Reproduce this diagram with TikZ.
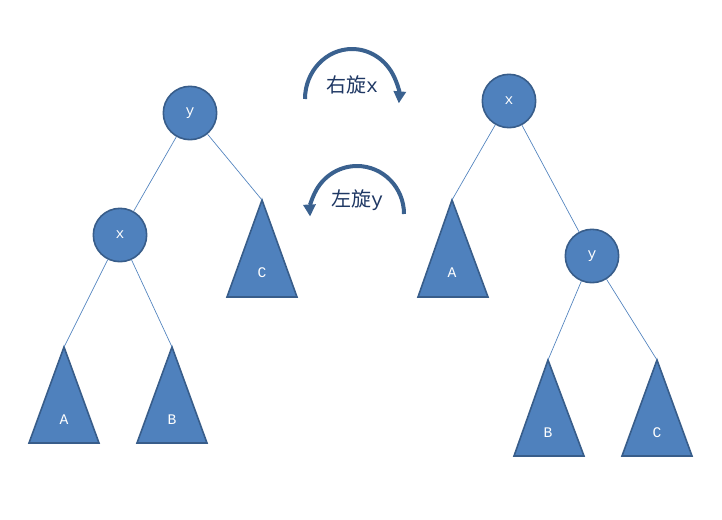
\documentclass[tikz,border=0pt]{standalone}
\usepackage{fontspec}
\setmonofont{Liberation Mono}
\newfontfamily\cjk{Noto Sans CJK SC}
\usetikzlibrary{arrows.meta}
\definecolor{nfill}{HTML}{4F81BD}
\definecolor{nedge}{HTML}{385D8A}
\definecolor{txt}{HTML}{1F3864}
\begin{document}
\begin{tikzpicture}[x=0.75pt,y=-0.75pt,
  circ/.style={circle,draw=nedge,fill=nfill,line width=1.2pt,minimum size=40pt,inner sep=0pt,font=\ttfamily\fontsize{11}{11}\selectfont,text=white},
  tri/.style={draw=nedge,fill=nfill,line width=1.2pt},
  tlab/.style={font=\ttfamily\fontsize{11}{11}\selectfont,text=white},
  edge/.style={draw=nfill,line width=0.5pt},
  rot/.style={draw=nedge!90!nfill,line width=3pt,-{Triangle[length=9pt,width=9pt]}},
  rlab/.style={text=txt,font=\fontsize{15}{15}\selectfont}]
\useasboundingbox (0,0) rectangle (722,519);
% left tree
\node[circ] (ly) at (190,113) {y};
\node[circ] (lx) at (120,235) {x};
\coordinate (lC) at (262,200);
\coordinate (lA) at (64,347);
\coordinate (lB) at (172,347);
\draw[tri] (lC) -- (297,297) -- (227,297) -- cycle;
\draw[tri] (lA) -- (99,443) -- (29,443) -- cycle;
\draw[tri] (lB) -- (207,443) -- (137,443) -- cycle;
\node[tlab] (lCl) at (262,273) {C};
\node[tlab] (lAl) at (64,420) {A};
\node[tlab] (lBl) at (172,420) {B};
\draw[edge] (ly) -- (lx);
\draw[edge] (ly) -- (lC);
\draw[edge] (lx) -- (lA);
\draw[edge] (lx) -- (lB);
% right tree
\node[circ] (rx) at (509,101) {x};
\node[circ] (ry) at (592,256) {y};
\coordinate (rA) at (452,200);
\coordinate (rB) at (548,360);
\coordinate (rC) at (657,360);
\draw[tri] (rA) -- (488,297) -- (418,297) -- cycle;
\draw[tri] (rB) -- (584,456) -- (514,456) -- cycle;
\draw[tri] (rC) -- (692,456) -- (622,456) -- cycle;
\node[tlab] (rAl) at (452,273) {A};
\node[tlab] (rBl) at (548,433) {B};
\node[tlab] (rCl) at (657,433) {C};
\draw[edge] (rx) -- (rA);
\draw[edge] (rx) -- (ry);
\draw[edge] (ry) -- (rB);
\draw[edge] (ry) -- (rC);
% rotation arrows
\draw[rot] (305,99) arc[start angle=180,end angle=-5,x radius=47,y radius=-50];
\draw[rot] (404,214) arc[start angle=0,end angle=183,x radius=47,y radius=-48];
\node[rlab] (r1) at (352,85) {{\cjk 右旋}\ttfamily x};
\node[rlab] (r2) at (357,200) {{\cjk 左旋}\ttfamily y};
\end{tikzpicture}
\end{document}
